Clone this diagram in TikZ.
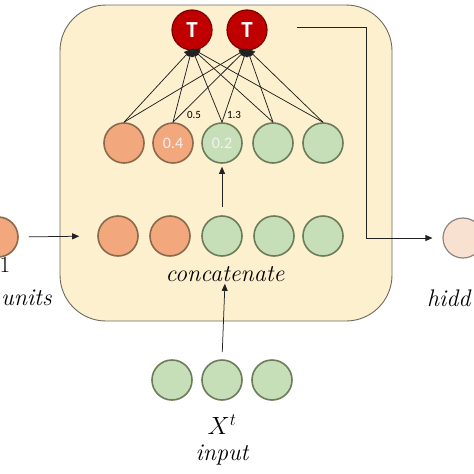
\documentclass[tikz,border=0pt]{standalone}
\usepackage{fontspec}
\newfontfamily\carlito{Carlito}
\usetikzlibrary{arrows.meta}
\definecolor{boxfill}{HTML}{FDF0CF}
\definecolor{boxline}{HTML}{6E6A5E}
\definecolor{orfill}{HTML}{F2A77D}
\definecolor{orline}{HTML}{8A6A4C}
\definecolor{grfill}{HTML}{C6DFB8}
\definecolor{grline}{HTML}{6C7C5A}
\definecolor{tfill}{HTML}{C00000}
\definecolor{tline}{HTML}{7A0000}
\definecolor{hidfill}{HTML}{F9E1D2}
\definecolor{hidline}{HTML}{8A8580}
\definecolor{wire}{HTML}{222222}
\tikzset{
  unit/.style={circle, minimum size=40pt, inner sep=0pt, line width=1.6pt},
  orunit/.style={unit, fill=orfill, draw=orline},
  grunit/.style={unit, fill=grfill, draw=grline},
  tunit/.style={circle, minimum size=40pt, inner sep=0pt, line width=1.2pt, fill=tfill, draw=tline,
    text=white, font=\carlito\bfseries\fontsize{23}{23}\selectfont},
  val/.style={text=white!95!black, font=\carlito\fontsize{16}{16}\selectfont},
  wlab/.style={font=\carlito\fontsize{11}{11}\selectfont, inner sep=0pt},
  lab/.style={font=\itshape\fontsize{24}{26}\selectfont, inner sep=0pt},
  wireline/.style={draw=wire, line width=0.75pt},
  arr/.style={wireline, -{Triangle[length=7pt,width=6pt]}},
  tarr/.style={wireline, -{Triangle[length=8pt,width=7pt]}}
}
\begin{document}
\begin{tikzpicture}[x=1pt,y=-1pt]
\useasboundingbox (0,0) rectangle (474,474);
\fill[white] (0,0) rectangle (474,474);
% main box
\draw[fill=boxfill, draw=boxline, line width=0.9pt, rounded corners=46pt] (60,5) rectangle (392,321);
% T units
\node[tunit] (t1) at (192,30) {T};
\node[tunit] (t2) at (247,30) {T};
% upper row
\node[orunit] (u1) at (124,143) {};
\node[orunit] (u2) at (173,143) {};
\node[grunit] (u3) at (222,143) {};
\node[grunit] (u4) at (273,143) {};
\node[grunit] (u5) at (323,143) {};
\node[val] at (u2) {0.4};
\node[val] at (u3) {0.2};
% concat row
\node[orunit] (c1) at (118,236) {};
\node[orunit] (c2) at (170,236) {};
\node[grunit] (c3) at (222,236) {};
\node[grunit] (c4) at (274,236) {};
\node[grunit] (c5) at (323,236) {};
\node[lab] (concat) at (225,274) {concatenate};
% input row
\node[grunit] (i1) at (172,380) {};
\node[grunit] (i2) at (222,380) {};
\node[grunit] (i3) at (272,380) {};
\node[lab, font=\fontsize{27}{27}\selectfont] (xt) at (222,425) {$X^{t}$};
\node[lab] (inp) at (222,455) {input};
% left unit
\node[orunit] (prev) at (-2,237) {};
\node[font=\fontsize{23}{23}\selectfont, inner sep=0pt] (one) at (5,265) {1};
\node[lab, anchor=west] (units) at (1,298) {units};
% hidden unit
\node[unit, fill=hidfill, draw=hidline, line width=1.2pt] (hid) at (463,238) {};
\node[lab, anchor=west] (hidd) at (427,298) {hidd};
% weights to T
\foreach \u in {u1,u2,u3,u4,u5}{
  \draw[tarr] (\u.north) -- ([yshift=2pt]t1.south);
  \draw[tarr] (\u.north) -- ([yshift=2pt]t2.south);
}
\node[wlab] (w1) at (194,115) {0.5};
\node[wlab] (w2) at (234,115) {1.3};
% arrows
\draw[arr, shorten <=8pt, shorten >=3pt] (c3.north) -- (u3.south);
\draw[arr, shorten <=7pt, shorten >=2pt] (i2.north) -- (concat.south);
\draw[arr, shorten <=10pt, shorten >=18pt] (prev.east) -- (c1.west);
\coordinate (r0) at (297,27);
\coordinate (r1) at (366,27);
\draw[arr, shorten >=10pt] (r0) -- (r1) |- (hid.west);
\end{tikzpicture}
\end{document}
